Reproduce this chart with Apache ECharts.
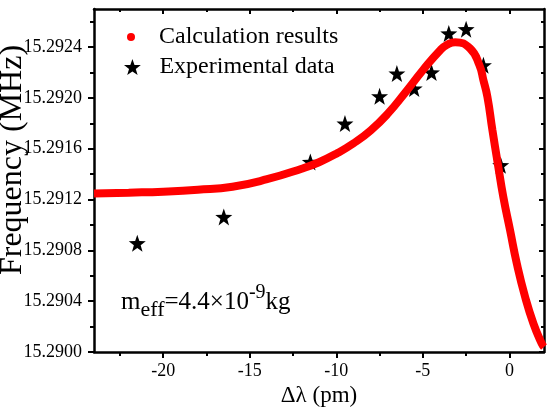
<!DOCTYPE html>
<html><head><meta charset="utf-8">
<script src="https://cdn.jsdelivr.net/npm/echarts@6/dist/echarts.min.js"></script>
<style>html,body{margin:0;padding:0;background:#fff}#c{width:550px;height:413px}</style>
</head><body><div id="c"></div>
<script>
// ---- data ----
const xTicks = [-20, -15, -10, -5, 0];
const xMinorTicks = [-22.5, -17.5, -12.5, -7.5, -2.5];
const yTicks = [15.2900, 15.2904, 15.2908, 15.2912, 15.2916, 15.2920, 15.2924];
const yMinorTicks = [15.2902, 15.2906, 15.2910, 15.2914, 15.2918, 15.2922, 15.2926];

const calcX = [-24, -22, -20, -18, -16, -14, -12, -11, -10, -9, -8, -7, -6, -5, -4, -3.6, -3.13, -2.27, -1.73, -1.5, -1.27, -0.98, -0.67, -0.35, 0.04, 0.43, 0.91, 1.39, 1.87, 2.0];
const calcY = [15.291247, 15.291254, 15.291262, 15.291277, 15.291301, 15.29136, 15.291443, 15.291494, 15.291561, 15.291643, 15.291746, 15.29188, 15.292045, 15.292218, 15.292376, 15.292419, 15.292439, 15.292389, 15.292257, 15.292139, 15.292008, 15.291746, 15.291483, 15.29122, 15.290958, 15.290696, 15.290433, 15.290224, 15.290066, 15.29004];

const expX = [-21.5, -16.5, -11.5, -9.5, -7.5, -6.5, -5.5, -4.5, -3.5, -2.5, -1.5, -0.5];
const expY = [15.290856, 15.291063, 15.291496, 15.291798, 15.292013, 15.292192, 15.292074, 15.2922, 15.292507, 15.292541, 15.292257, 15.29147];

const seriesNames = ['Calculation results', 'Experimental data'];
const xName = 'Δλ (pm)';
const yName = 'Frequency (MHz)';

// ---- chart ----
const FONT = '"Liberation Serif", "Times New Roman", serif';
function starPath() {
  const pts = [];
  for (let i = 0; i < 10; i++) {
    const r = i % 2 ? 0.4 : 1;
    const a = -Math.PI / 2 + i * Math.PI / 5;
    pts.push((50 + 50 * r * Math.cos(a)).toFixed(2) + ',' + (50 + 50 * r * Math.sin(a)).toFixed(2));
  }
  return 'path://M' + pts.join('L') + 'Z';
}
const STAR = starPath();
const X_MIN = -24, X_MAX = 2, Y_MIN = 15.29, Y_MAX = 15.2927;
const black = '#000';

function xAxis(pos, ticks, len, inside, showLine, label, extra) {
  return Object.assign({
    type: 'value', position: pos, min: X_MIN, max: X_MAX,
    axisLine: { show: showLine, onZero: false, lineStyle: { color: black, width: 2.5 } },
    axisTick: { show: true, inside: inside, length: len, customValues: ticks, lineStyle: { color: black, width: 2 } },
    axisLabel: label ? { show: true, customValues: ticks, fontFamily: FONT, fontSize: 18, color: black, margin: 10, formatter: v => String(v) } : { show: false },
    splitLine: { show: false }
  }, extra || {});
}
function yAxis(pos, ticks, len, inside, showLine, label) {
  return {
    type: 'value', position: pos, min: Y_MIN, max: Y_MAX,
    axisLine: { show: showLine, onZero: false, lineStyle: { color: black, width: 2.5 } },
    axisTick: { show: true, inside: inside, length: len, customValues: ticks, lineStyle: { color: black, width: 2 } },
    axisLabel: label ? { show: true, customValues: ticks, fontFamily: FONT, fontSize: 18, color: black, margin: 12, formatter: v => v.toFixed(4) } : { show: false },
    splitLine: { show: false }
  };
}

const chart = echarts.init(document.getElementById('c'));
chart.setOption({
  animation: false,
  backgroundColor: '#fff',
  grid: { left: 94, right: 6, top: 9, bottom: 61 },
  xAxis: [
    xAxis('bottom', xTicks, 6, false, true, true, {
      name: xName, nameLocation: 'middle', nameGap: 31,
      nameTextStyle: { fontFamily: FONT, fontSize: 23, color: black }
    }),
    xAxis('bottom', xMinorTicks, 4, false, false, false),
    xAxis('top', xTicks, 5, true, true, false),
    xAxis('top', xMinorTicks, 3, true, false, false)
  ],
  yAxis: [
    yAxis('left', yTicks, 6, false, true, true),
    yAxis('left', yMinorTicks, 4, false, false, false),
    yAxis('right', yTicks, 5, true, true, false),
    yAxis('right', yMinorTicks, 3, true, false, false)
  ],
  legend: [
    { data: [seriesNames[0]], left: 127, top: 25, padding: 0, itemWidth: 46, itemHeight: 8, icon: 'circle',
      selectedMode: false, textStyle: { fontFamily: FONT, fontSize: 24, color: black } },
    { data: [seriesNames[1]], left: 124, top: 55, padding: 0, itemWidth: 44, itemHeight: 16,
      selectedMode: false, textStyle: { fontFamily: FONT, fontSize: 24, color: black } }
  ],
  series: [
    { name: seriesNames[1], type: 'scatter', xAxisIndex: 0, yAxisIndex: 0,
      data: expX.map((x, i) => [x, expY[i]]), symbol: STAR, symbolSize: 17,
      itemStyle: { color: black, opacity: 1 }, z: 2 },
    { name: seriesNames[0], type: 'line', xAxisIndex: 0, yAxisIndex: 0,
      data: calcX.map((x, i) => [x, calcY[i]]), showSymbol: false, smooth: 0.5,
      lineStyle: { color: '#ff0000', width: 8 }, itemStyle: { color: '#ff0000' }, z: 3 }
  ],
  graphic: [
    { type: 'text', x: 13, y: 160, rotation: Math.PI / 2,
      style: { text: yName, fontFamily: FONT, fontSize: 32, fill: black, align: 'center', verticalAlign: 'middle', textAlign: 'center', textVerticalAlign: 'middle' } },
    { type: 'text', x: 121, y: 302,
      style: {
        text: '{m|m}{sub|eff}{m|=4.4×10}{sup|-9}{m|kg}',
        align: 'left', verticalAlign: 'middle', textAlign: 'left', textVerticalAlign: 'middle',
        fill: black,
        rich: {
          m: { fontFamily: FONT, fontSize: 25, fill: black, lineHeight: 38 },
          sub: { fontFamily: FONT, fontSize: 22, fill: black, lineHeight: 18, verticalAlign: 'bottom' },
          sup: { fontFamily: FONT, fontSize: 20, fill: black, lineHeight: 20, verticalAlign: 'top' }
        }
      } }
  ]
});
</script>
</body></html>
